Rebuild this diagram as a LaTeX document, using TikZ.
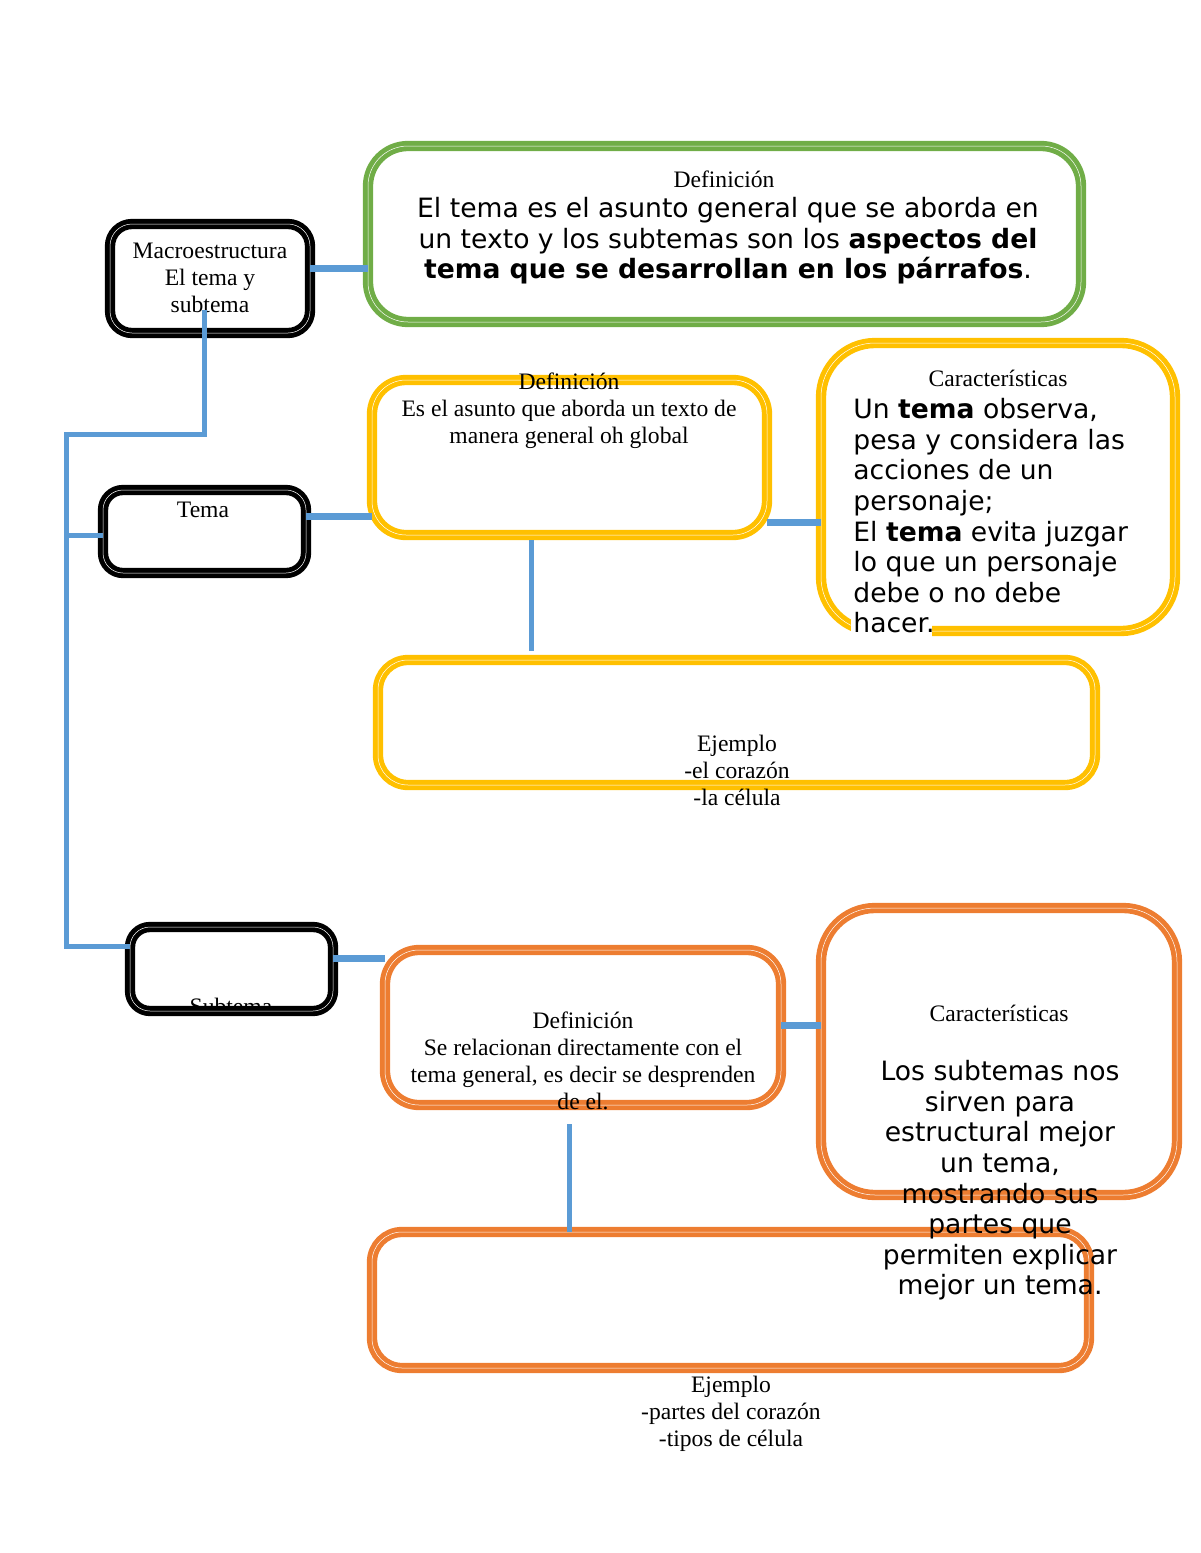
\documentclass[tikz,border=0pt]{standalone}
\usepackage{fontspec}
\setmainfont{Liberation Serif}
\newfontfamily\sansdv{DejaVu Sans}
\usepackage{tikz}

\definecolor{cgreen}{RGB}{112,173,71}
\definecolor{cyellow}{RGB}{255,192,0}
\definecolor{corange}{RGB}{237,125,49}
\definecolor{cblue}{RGB}{91,155,213}

\tikzset{
  box/.style={draw=#1, double=white, double distance=0.25pt, line width=2.45pt, inner sep=0pt, outer sep=0pt},
  serif/.style={font=\fontsize{11.8}{13.5}\selectfont, align=center, inner sep=0pt},
  sans/.style={font=\sansdv\fontsize{13.3}{15.3}\selectfont, inner sep=0pt},
  link/.style={draw=cblue, line width=3.5pt},
  trunk/.style={draw=cblue, line width=2.5pt},
}

\begin{document}
\begin{tikzpicture}[x=0.5pt,y=0.5pt,yscale=-1,xscale=1]
\useasboundingbox (0,0) rectangle (1200,1553);

% Text Node (half hidden under the box)
\node[serif, anchor=north] (subtxt) at (231,998) {Subtema};

%Rounded Rect
\node[box=black, rounded corners=11pt, minimum width=100pt, minimum height=54.5pt] (macro) at (210,278.5) {};
\node[box=cgreen, rounded corners=20pt, minimum width=356.5pt, minimum height=88pt] (gdef) at (724.5,234) {};
\node[box=black, rounded corners=10pt, minimum width=101.5pt, minimum height=41.5pt] (tema) at (204.5,531.5) {};
\node[box=cyellow, rounded corners=17pt, minimum width=197.5pt, minimum height=77.5pt] (ydef) at (569.5,457.5) {};
\node[box=cyellow, rounded corners=27pt, minimum width=177pt, minimum height=144pt] (ychar) at (998,487) {};
\node[box=cyellow, rounded corners=15pt, minimum width=358.5pt, minimum height=62.5pt] (yex) at (736.5,722.5) {};
\node[box=black, rounded corners=10pt, minimum width=101.5pt, minimum height=42pt] (subtema) at (231.5,969) {};
\node[box=corange, rounded corners=17pt, minimum width=198pt, minimum height=77.5pt] (odef) at (583,1027.5) {};
\node[box=corange, rounded corners=27pt, minimum width=178pt, minimum height=143.5pt] (ochar) at (999,1051.5) {};
\node[box=corange, rounded corners=15pt, minimum width=358.5pt, minimum height=68pt] (oex) at (730.5,1300) {};

% Text Node
\node[serif, anchor=north] (macrotxt) at (210,243) {Macroestructura\\El tema y\\subtema};
% Text Node
\node[serif, anchor=north] (gtitle) at (724,170) {Definición};
\node[sans, anchor=north, align=center] (gtxt) at (728,197) {El tema es el asunto general que se aborda en\\un texto y los subtemas son los \textbf{aspectos del}\\\textbf{tema que se desarrollan en los párrafos}.};
% Text Node
\node[serif, anchor=north] (tematxt) at (203,502) {Tema};
% Text Node
\node[serif, anchor=north] (ydeftxt) at (569,372) {Definición\\Es el asunto que aborda un texto de\\manera general oh global};
% Text Node
\node[serif, anchor=north] (ychartitle) at (998,370) {Características};
\fill[white] (851,612) rectangle (932,642);
\node[sans, anchor=north west, align=left] (ychartxt) at (853,398) {Un \textbf{tema} observa,\\pesa y considera las\\acciones de un\\personaje;\\El \textbf{tema} evita juzgar\\lo que un personaje\\debe o no debe\\hacer.};
% Text Node
\node[serif, anchor=north] (yextxt) at (737,735) {Ejemplo\\-el corazón\\-la célula};
% Text Node
\node[serif, anchor=north] (odeftxt) at (583,1011) {Definición\\Se relacionan directamente con el\\tema general, es decir se desprenden\\de el.};
% Text Node
\node[serif, anchor=north] (ochartitle) at (999,1005) {Características};
\node[sans, anchor=north, align=center] (ochartxt) at (1000,1060) {Los subtemas nos\\sirven para\\estructural mejor\\un tema,\\mostrando sus\\partes que\\permiten explicar\\mejor un tema.};
% Text Node
\node[serif, anchor=north] (oextxt) at (731,1376) {Ejemplo\\-partes del corazón\\-tipos de célula};

%Straight Lines
\coordinate (top) at (204,434);
\coordinate (bend) at (66,434);
\coordinate (joint) at (66,535);
\coordinate (foot) at (66,946);
\draw[link] (macro.east |- 0,268) -- (gdef.west |- 0,268);
\draw[trunk] ([xshift=-3pt,yshift=-11.5pt]macro.south) -- (top) -- (bend) -- (foot) -- (subtema.west |- foot);
\draw[trunk] (joint) -- (tema.west |- joint);
\draw[link] (tema.east |- 0,516) -- (ydef.west |- 0,516);
\draw[link] (ydef.east |- 0,522) -- (ychar.west |- 0,522);
\draw[trunk] ([yshift=2.5pt]ydef.south -| 531,0) -- ([yshift=-4.5pt]yex.north -| 531,0);
\draw[link] (subtema.east |- 0,958) -- (odef.west |- 0,958);
\draw[link] (odef.east |- 0,1025) -- (ochar.west |- 0,1025);
\draw[trunk] ([yshift=9.5pt]odef.south -| 569,0) -- (oex.north -| 569,0);

\end{tikzpicture}
\end{document}
